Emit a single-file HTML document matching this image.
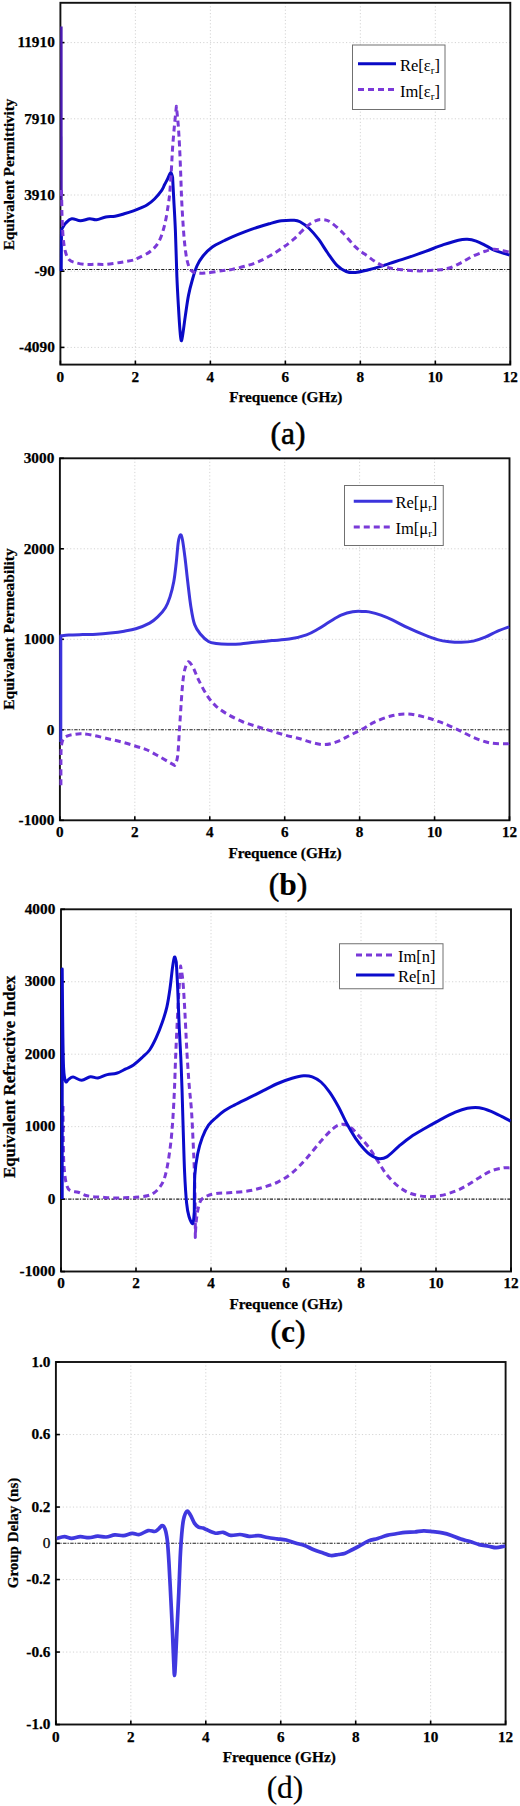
<!DOCTYPE html>
<html><head><meta charset="utf-8"><title>Figure</title>
<style>
html,body{margin:0;padding:0;background:#fff;}
svg{display:block;}
.grid{stroke:#d4d4d4;stroke-width:1;stroke-dasharray:1.2 2.2;}
.zero{stroke:#222;stroke-width:1.1;stroke-dasharray:3.2 1.3 1.2 1.5;}
.tick{stroke:#000;stroke-width:1.6;}
.frame{fill:none;stroke:#111;stroke-width:1.9;}
.tl{font-family:'Liberation Serif', 'Times New Roman', serif;font-weight:bold;fill:#000;stroke:#000;stroke-width:0.25px;}
.al{font-family:'Liberation Serif', 'Times New Roman', serif;font-weight:bold;fill:#000;stroke:#000;stroke-width:0.25px;}
.lg{font-family:'Liberation Serif', 'Times New Roman', serif;font-size:16.5px;fill:#000;}
</style></head>
<body>
<svg width="520" height="1806" viewBox="0 0 520 1806">
<rect x="0" y="0" width="520" height="1806" fill="#fff"/>
<line x1="135.38" y1="2.80" x2="135.38" y2="364.60" class="grid"/>
<line x1="210.37" y1="2.80" x2="210.37" y2="364.60" class="grid"/>
<line x1="285.35" y1="2.80" x2="285.35" y2="364.60" class="grid"/>
<line x1="360.33" y1="2.80" x2="360.33" y2="364.60" class="grid"/>
<line x1="435.32" y1="2.80" x2="435.32" y2="364.60" class="grid"/>
<line x1="60.40" y1="42.60" x2="510.30" y2="42.60" class="grid"/>
<line x1="60.40" y1="118.80" x2="510.30" y2="118.80" class="grid"/>
<line x1="60.40" y1="195.00" x2="510.30" y2="195.00" class="grid"/>
<line x1="60.40" y1="271.20" x2="510.30" y2="271.20" class="grid"/>
<line x1="60.40" y1="347.40" x2="510.30" y2="347.40" class="grid"/>
<line x1="60.40" y1="269.49" x2="510.30" y2="269.49" class="zero"/>
<rect x="60.40" y="2.80" width="449.90" height="361.80" class="frame"/>
<line x1="60.40" y1="364.60" x2="60.40" y2="360.60" class="tick"/>
<text x="60.40" y="382.00" class="tl" text-anchor="middle" font-size="15.2">0</text>
<line x1="135.38" y1="364.60" x2="135.38" y2="360.60" class="tick"/>
<text x="135.38" y="382.00" class="tl" text-anchor="middle" font-size="15.2">2</text>
<line x1="210.37" y1="364.60" x2="210.37" y2="360.60" class="tick"/>
<text x="210.37" y="382.00" class="tl" text-anchor="middle" font-size="15.2">4</text>
<line x1="285.35" y1="364.60" x2="285.35" y2="360.60" class="tick"/>
<text x="285.35" y="382.00" class="tl" text-anchor="middle" font-size="15.2">6</text>
<line x1="360.33" y1="364.60" x2="360.33" y2="360.60" class="tick"/>
<text x="360.33" y="382.00" class="tl" text-anchor="middle" font-size="15.2">8</text>
<line x1="435.32" y1="364.60" x2="435.32" y2="360.60" class="tick"/>
<text x="435.32" y="382.00" class="tl" text-anchor="middle" font-size="15.2">10</text>
<line x1="510.30" y1="364.60" x2="510.30" y2="360.60" class="tick"/>
<text x="510.30" y="382.00" class="tl" text-anchor="middle" font-size="15.2">12</text>
<line x1="60.40" y1="42.60" x2="64.40" y2="42.60" class="tick"/>
<text x="54.80" y="47.30" class="tl" text-anchor="end" style="font-weight:bold" font-size="15.3">11910</text>
<line x1="60.40" y1="118.80" x2="64.40" y2="118.80" class="tick"/>
<text x="54.80" y="123.50" class="tl" text-anchor="end" style="font-weight:bold" font-size="15.3">7910</text>
<line x1="60.40" y1="195.00" x2="64.40" y2="195.00" class="tick"/>
<text x="54.80" y="199.70" class="tl" text-anchor="end" style="font-weight:bold" font-size="15.3">3910</text>
<line x1="60.40" y1="271.20" x2="64.40" y2="271.20" class="tick"/>
<text x="54.80" y="275.90" class="tl" text-anchor="end" style="font-weight:bold" font-size="15.3">-90</text>
<line x1="60.40" y1="347.40" x2="64.40" y2="347.40" class="tick"/>
<text x="54.80" y="352.10" class="tl" text-anchor="end" style="font-weight:bold" font-size="15.3">-4090</text>
<text transform="translate(13.80,174.40) rotate(-90)" x="0" y="0" class="al" text-anchor="middle" font-size="15">Equivalent Permittivity</text>
<text x="285.70" y="401.90" class="al" text-anchor="middle" font-size="15.3">Frequence (GHz)</text>
<text x="288.00" y="444.00" font-family="'Liberation Serif', 'Times New Roman', serif" font-weight="normal" font-size="31.5" text-anchor="middle" fill="#000" stroke="#000" stroke-width="0.55">(a)</text>
<path d="M61.20,271.00 L61.50,229.50 L61.50,229.50 C62.22,228.42 64.07,224.78 65.80,223.00 C67.53,221.22 69.47,219.17 71.90,218.80 C74.33,218.43 77.45,220.80 80.40,220.80 C83.35,220.80 86.92,218.98 89.60,218.80 C92.28,218.62 93.80,220.00 96.50,219.70 C99.20,219.40 102.72,217.58 105.80,217.00 C108.88,216.42 111.93,216.73 115.00,216.20 C118.07,215.67 121.12,214.70 124.20,213.80 C127.28,212.90 130.62,211.82 133.50,210.80 C136.38,209.78 139.20,208.70 141.50,207.70 C143.80,206.70 145.13,206.25 147.30,204.80 C149.47,203.35 152.10,201.40 154.50,199.00 C156.90,196.60 160.03,192.77 161.70,190.40 C163.37,188.03 163.48,186.78 164.50,184.80 C165.52,182.82 166.75,180.55 167.80,178.50 C168.85,176.45 170.00,172.68 170.80,172.50 C171.60,172.32 172.30,176.58 172.60,177.40 L172.60,177.40 C172.80,181.17 173.33,191.10 173.80,200.00 C174.27,208.90 174.88,217.98 175.40,230.80 C175.92,243.62 176.38,264.08 176.90,276.90 C177.42,289.72 177.98,298.72 178.50,307.70 C179.02,316.68 179.55,325.33 180.00,330.80 C180.45,336.27 180.77,339.72 181.20,340.50 C181.63,341.28 181.90,339.68 182.60,335.50 C183.30,331.32 184.42,322.08 185.40,315.40 C186.38,308.72 187.35,301.30 188.50,295.40 C189.65,289.50 190.90,284.90 192.30,280.00 C193.70,275.10 195.12,270.00 196.90,266.00 C198.68,262.00 200.43,259.17 203.00,256.00 C205.57,252.83 208.70,249.58 212.30,247.00 C215.90,244.42 221.27,242.20 224.60,240.50 C227.93,238.80 228.97,238.25 232.30,236.80 C235.63,235.35 240.50,233.35 244.60,231.80 C248.70,230.25 252.80,228.83 256.90,227.50 C261.00,226.17 265.10,224.92 269.20,223.80 C273.30,222.68 277.40,221.40 281.50,220.80 C285.60,220.20 290.72,220.05 293.80,220.20 C296.88,220.35 297.43,220.32 300.00,221.70 C302.57,223.08 306.12,225.58 309.20,228.50 C312.28,231.42 315.42,235.12 318.50,239.20 C321.58,243.28 324.62,248.63 327.70,253.00 C330.78,257.37 333.92,262.32 337.00,265.40 C340.08,268.48 343.13,270.32 346.20,271.50 C349.27,272.68 351.82,272.75 355.40,272.50 C358.98,272.25 363.60,270.98 367.70,270.00 C371.80,269.02 376.32,267.70 380.00,266.60 C383.68,265.50 385.18,264.90 389.80,263.40 C394.42,261.90 401.73,259.62 407.70,257.60 C413.67,255.58 419.63,253.45 425.60,251.30 C431.57,249.15 438.03,246.55 443.50,244.70 C448.97,242.85 454.43,241.10 458.40,240.20 C462.37,239.30 464.33,239.15 467.30,239.30 C470.27,239.45 473.22,240.10 476.20,241.10 C479.18,242.10 482.22,243.80 485.20,245.30 C488.18,246.80 491.12,248.80 494.10,250.10 C497.08,251.40 500.53,252.27 503.10,253.10 C505.67,253.93 508.43,254.77 509.50,255.10" fill="none" stroke="#0a0ac6" stroke-width="3" stroke-linejoin="round"/>
<line x1="61.4" y1="26.5" x2="61.5" y2="200" stroke="#4c1cb4" stroke-width="2.4"/>
<path d="M61.50,190.00 C61.55,192.50 61.72,200.83 61.80,205.00 C61.88,209.17 61.77,209.50 62.00,215.00 C62.23,220.50 62.62,231.83 63.20,238.00 C63.78,244.17 64.53,248.42 65.50,252.00 C66.47,255.58 67.42,257.75 69.00,259.50 C70.58,261.25 72.20,261.67 75.00,262.50 C77.80,263.33 82.47,264.22 85.80,264.50 C89.13,264.78 91.93,264.22 95.00,264.20 C98.07,264.18 100.87,264.57 104.20,264.40 C107.53,264.23 111.67,263.63 115.00,263.20 C118.33,262.77 121.12,262.33 124.20,261.80 C127.28,261.27 131.10,260.67 133.50,260.00 C135.90,259.33 135.82,259.22 138.60,257.80 C141.38,256.38 146.83,254.18 150.20,251.50 C153.57,248.82 156.40,246.12 158.80,241.70 C161.20,237.28 163.02,231.18 164.60,225.00 C166.18,218.82 167.40,210.43 168.30,204.60 C169.20,198.77 169.47,196.15 170.00,190.00 C170.53,183.85 171.07,174.75 171.50,167.70 C171.93,160.65 172.12,154.65 172.60,147.70 C173.08,140.75 173.77,132.92 174.40,126.00 C175.03,119.08 176.07,109.50 176.40,106.20 L176.40,106.20 C176.72,109.50 177.77,119.08 178.30,126.00 C178.83,132.92 179.20,139.73 179.60,147.70 C180.00,155.67 180.37,165.33 180.70,173.80 C181.03,182.27 181.22,190.30 181.60,198.50 C181.98,206.70 182.50,215.58 183.00,223.00 C183.50,230.42 183.93,236.83 184.60,243.00 C185.27,249.17 185.97,255.50 187.00,260.00 C188.03,264.50 189.15,267.83 190.80,270.00 C192.45,272.17 194.37,272.50 196.90,273.00 C199.43,273.50 201.90,273.37 206.00,273.00 C210.10,272.63 217.12,271.40 221.50,270.80 C225.88,270.20 228.45,270.15 232.30,269.40 C236.15,268.65 240.50,267.48 244.60,266.30 C248.70,265.12 252.80,263.98 256.90,262.30 C261.00,260.62 265.10,258.50 269.20,256.20 C273.30,253.90 277.40,251.33 281.50,248.50 C285.60,245.67 289.68,242.80 293.80,239.20 C297.92,235.60 302.60,229.97 306.20,226.90 C309.80,223.83 312.60,222.03 315.40,220.80 C318.20,219.57 320.43,219.25 323.00,219.50 C325.57,219.75 327.47,220.05 330.80,222.30 C334.13,224.55 338.90,228.90 343.00,233.00 C347.10,237.10 351.28,243.03 355.40,246.90 C359.52,250.77 363.95,253.48 367.70,256.20 C371.45,258.92 374.22,261.23 377.90,263.20 C381.58,265.17 385.33,266.87 389.80,268.00 C394.27,269.13 399.73,269.52 404.70,270.00 C409.67,270.48 414.13,270.90 419.60,270.90 C425.07,270.90 432.53,270.48 437.50,270.00 C442.47,269.52 445.43,269.23 449.40,268.00 C453.37,266.77 457.32,264.60 461.30,262.60 C465.28,260.60 469.32,257.88 473.30,256.00 C477.28,254.12 481.73,252.43 485.20,251.30 C488.67,250.17 491.12,249.30 494.10,249.20 C497.08,249.10 500.53,250.20 503.10,250.70 C505.67,251.20 508.43,251.95 509.50,252.20" fill="none" stroke="#7a3ad8" stroke-width="3" stroke-linejoin="round" stroke-dasharray="6 4"/>
<rect x="352.50" y="45.00" width="92.50" height="64.50" fill="#fff" stroke="#707070" stroke-width="1"/>
<line x1="358.00" y1="63.75" x2="396.00" y2="63.75" stroke="#0a0ac6" stroke-width="3"/>
<text x="400.00" y="70.50" class="lg">Re[ε<tspan font-size="11" dy="3">r</tspan><tspan dy="-3">]</tspan></text>
<line x1="358.00" y1="89.50" x2="395.00" y2="89.50" stroke="#7a3ad8" stroke-width="3" stroke-dasharray="6 4"/>
<text x="400.00" y="96.50" class="lg">Im[ε<tspan font-size="11" dy="3">r</tspan><tspan dy="-3">]</tspan></text>
<line x1="134.83" y1="458.30" x2="134.83" y2="820.30" class="grid"/>
<line x1="209.77" y1="458.30" x2="209.77" y2="820.30" class="grid"/>
<line x1="284.70" y1="458.30" x2="284.70" y2="820.30" class="grid"/>
<line x1="359.63" y1="458.30" x2="359.63" y2="820.30" class="grid"/>
<line x1="434.57" y1="458.30" x2="434.57" y2="820.30" class="grid"/>
<line x1="59.90" y1="548.80" x2="509.50" y2="548.80" class="grid"/>
<line x1="59.90" y1="639.30" x2="509.50" y2="639.30" class="grid"/>
<line x1="59.90" y1="729.80" x2="509.50" y2="729.80" class="grid"/>
<line x1="59.90" y1="729.80" x2="509.50" y2="729.80" class="zero"/>
<rect x="59.90" y="458.30" width="449.60" height="362.00" class="frame"/>
<line x1="59.90" y1="820.30" x2="59.90" y2="816.30" class="tick"/>
<text x="59.90" y="837.30" class="tl" text-anchor="middle" font-size="15.2">0</text>
<line x1="134.83" y1="820.30" x2="134.83" y2="816.30" class="tick"/>
<text x="134.83" y="837.30" class="tl" text-anchor="middle" font-size="15.2">2</text>
<line x1="209.77" y1="820.30" x2="209.77" y2="816.30" class="tick"/>
<text x="209.77" y="837.30" class="tl" text-anchor="middle" font-size="15.2">4</text>
<line x1="284.70" y1="820.30" x2="284.70" y2="816.30" class="tick"/>
<text x="284.70" y="837.30" class="tl" text-anchor="middle" font-size="15.2">6</text>
<line x1="359.63" y1="820.30" x2="359.63" y2="816.30" class="tick"/>
<text x="359.63" y="837.30" class="tl" text-anchor="middle" font-size="15.2">8</text>
<line x1="434.57" y1="820.30" x2="434.57" y2="816.30" class="tick"/>
<text x="434.57" y="837.30" class="tl" text-anchor="middle" font-size="15.2">10</text>
<line x1="509.50" y1="820.30" x2="509.50" y2="816.30" class="tick"/>
<text x="509.50" y="837.30" class="tl" text-anchor="middle" font-size="15.2">12</text>
<line x1="59.90" y1="458.30" x2="63.90" y2="458.30" class="tick"/>
<text x="54.30" y="463.00" class="tl" text-anchor="end" style="font-weight:bold" font-size="15.3">3000</text>
<line x1="59.90" y1="548.80" x2="63.90" y2="548.80" class="tick"/>
<text x="54.30" y="553.50" class="tl" text-anchor="end" style="font-weight:bold" font-size="15.3">2000</text>
<line x1="59.90" y1="639.30" x2="63.90" y2="639.30" class="tick"/>
<text x="54.30" y="644.00" class="tl" text-anchor="end" style="font-weight:bold" font-size="15.3">1000</text>
<line x1="59.90" y1="729.80" x2="63.90" y2="729.80" class="tick"/>
<text x="54.30" y="734.50" class="tl" text-anchor="end" style="font-weight:bold" font-size="15.3">0</text>
<line x1="59.90" y1="820.30" x2="63.90" y2="820.30" class="tick"/>
<text x="54.30" y="825.00" class="tl" text-anchor="end" style="font-weight:bold" font-size="15.3">-1000</text>
<text transform="translate(14.40,629.00) rotate(-90)" x="0" y="0" class="al" text-anchor="middle" font-size="15.5">Equivalent Permeability</text>
<text x="285.00" y="857.50" class="al" text-anchor="middle" font-size="15.3">Frequence (GHz)</text>
<text x="288.00" y="894.50" font-family="'Liberation Serif', 'Times New Roman', serif" font-weight="normal" font-size="31.5" text-anchor="middle" fill="#000" stroke="#000" stroke-width="0.55">(<tspan font-weight="bold" stroke-width="0.1">b</tspan>)</text>
<path d="M60.80,742.00 L60.80,635.80 L60.80,635.80 C62.13,635.68 65.15,635.30 68.80,635.10 C72.45,634.90 78.08,634.75 82.70,634.60 C87.32,634.45 91.88,634.47 96.50,634.20 C101.12,633.93 105.78,633.50 110.40,633.00 C115.02,632.50 119.97,631.90 124.20,631.20 C128.43,630.50 131.57,630.15 135.80,628.80 C140.03,627.45 145.95,625.08 149.60,623.10 C153.25,621.12 155.07,619.47 157.70,616.90 C160.33,614.33 163.35,611.03 165.40,607.70 C167.45,604.37 168.60,601.27 170.00,596.90 C171.40,592.53 172.77,587.15 173.80,581.50 C174.83,575.85 175.45,569.58 176.20,563.00 C176.95,556.42 177.60,546.70 178.30,542.00 C179.00,537.30 179.70,535.13 180.40,534.80 C181.10,534.47 181.72,536.05 182.50,540.00 C183.28,543.95 184.23,551.58 185.10,558.50 C185.97,565.42 186.75,573.55 187.70,581.50 C188.65,589.45 189.65,599.02 190.80,606.20 C191.95,613.38 192.93,619.88 194.60,624.60 C196.27,629.32 198.48,631.68 200.80,634.50 C203.12,637.32 205.93,640.00 208.50,641.50 C211.07,643.00 213.00,643.03 216.20,643.50 C219.40,643.97 223.70,644.22 227.70,644.30 C231.70,644.38 235.72,644.33 240.20,644.00 C244.68,643.67 249.32,642.87 254.60,642.30 C259.88,641.73 266.13,641.13 271.90,640.60 C277.67,640.07 283.43,640.07 289.20,639.10 C294.97,638.13 301.68,636.48 306.50,634.80 C311.32,633.12 314.25,631.17 318.10,629.00 C321.95,626.83 325.77,624.10 329.60,621.80 C333.43,619.50 337.25,616.88 341.10,615.20 C344.95,613.52 348.85,612.32 352.70,611.70 C356.55,611.08 361.48,611.47 364.20,611.50 C366.92,611.53 366.22,611.28 369.00,611.90 C371.78,612.52 376.93,613.82 380.90,615.20 C384.87,616.58 388.33,618.12 392.80,620.20 C397.27,622.28 402.73,625.37 407.70,627.70 C412.67,630.03 417.63,632.22 422.60,634.20 C427.57,636.18 433.03,638.35 437.50,639.60 C441.97,640.85 445.43,641.25 449.40,641.70 C453.37,642.15 457.32,642.40 461.30,642.30 C465.28,642.20 469.32,641.95 473.30,641.10 C477.28,640.25 481.23,638.83 485.20,637.20 C489.17,635.57 493.10,633.03 497.10,631.30 C501.10,629.57 507.18,627.55 509.20,626.80" fill="none" stroke="#3c34dc" stroke-width="3" stroke-linejoin="round"/>
<path d="M60.90,785.20 C60.92,779.83 60.85,759.95 61.00,753.00 C61.15,746.05 61.38,745.87 61.80,743.50 C62.22,741.13 62.63,740.02 63.50,738.80 C64.37,737.58 65.53,736.88 67.00,736.20 C68.47,735.52 69.97,735.10 72.30,734.70 C74.63,734.30 77.63,733.72 81.00,733.80 C84.37,733.88 88.18,734.42 92.50,735.20 C96.82,735.98 102.10,737.38 106.90,738.50 C111.70,739.62 116.48,740.62 121.30,741.90 C126.12,743.18 131.47,744.85 135.80,746.20 C140.13,747.55 143.47,748.32 147.30,750.00 C151.13,751.68 155.20,754.28 158.80,756.30 C162.40,758.32 166.25,760.58 168.90,762.10 C171.55,763.62 173.73,764.85 174.70,765.40 L174.70,765.40 C175.18,763.88 176.78,762.62 177.60,756.30 C178.42,749.98 178.88,738.07 179.60,727.50 C180.32,716.93 181.22,701.65 181.90,692.90 C182.58,684.15 183.03,679.48 183.70,675.00 C184.37,670.52 185.08,668.20 185.90,666.00 C186.72,663.80 187.40,661.57 188.60,661.80 C189.80,662.03 191.40,664.30 193.10,667.40 C194.80,670.50 196.40,675.60 198.80,680.40 C201.20,685.20 204.60,691.88 207.50,696.20 C210.40,700.52 212.83,703.27 216.20,706.30 C219.57,709.33 223.38,711.87 227.70,714.40 C232.02,716.93 237.30,719.48 242.10,721.50 C246.90,723.52 251.68,724.93 256.50,726.50 C261.32,728.07 266.18,729.45 271.00,730.90 C275.82,732.35 280.57,733.88 285.40,735.20 C290.23,736.52 295.50,737.57 300.00,738.80 C304.50,740.03 308.27,741.63 312.40,742.60 C316.53,743.57 320.67,744.75 324.80,744.60 C328.93,744.45 333.07,743.22 337.20,741.70 C341.33,740.18 345.47,737.57 349.60,735.50 C353.73,733.43 357.87,731.52 362.00,729.30 C366.13,727.08 369.57,724.42 374.40,722.20 C379.23,719.98 385.48,717.37 391.00,716.00 C396.52,714.63 402.00,713.85 407.50,714.00 C413.00,714.15 418.48,715.53 424.00,716.90 C429.52,718.27 435.08,720.13 440.60,722.20 C446.12,724.27 451.60,726.75 457.10,729.30 C462.60,731.85 468.08,735.23 473.60,737.50 C479.12,739.77 484.68,741.87 490.20,742.90 C495.72,743.93 503.53,743.60 506.70,743.70 C509.87,743.80 508.78,743.53 509.20,743.50" fill="none" stroke="#7a3ad8" stroke-width="3" stroke-linejoin="round" stroke-dasharray="6 4"/>
<rect x="344.50" y="485.50" width="98.75" height="60.00" fill="#fff" stroke="#707070" stroke-width="1"/>
<line x1="353.75" y1="501.25" x2="392.50" y2="501.25" stroke="#3c34dc" stroke-width="3"/>
<text x="395.50" y="507.80" class="lg">Re[μ<tspan font-size="11" dy="3">r</tspan><tspan dy="-3">]</tspan></text>
<line x1="353.75" y1="527.00" x2="392.50" y2="527.00" stroke="#7a3ad8" stroke-width="3" stroke-dasharray="6 4"/>
<text x="395.50" y="533.50" class="lg">Im[μ<tspan font-size="11" dy="3">r</tspan><tspan dy="-3">]</tspan></text>
<line x1="136.00" y1="909.30" x2="136.00" y2="1271.50" class="grid"/>
<line x1="211.00" y1="909.30" x2="211.00" y2="1271.50" class="grid"/>
<line x1="286.00" y1="909.30" x2="286.00" y2="1271.50" class="grid"/>
<line x1="361.00" y1="909.30" x2="361.00" y2="1271.50" class="grid"/>
<line x1="436.00" y1="909.30" x2="436.00" y2="1271.50" class="grid"/>
<line x1="61.00" y1="981.75" x2="511.00" y2="981.75" class="grid"/>
<line x1="61.00" y1="1054.20" x2="511.00" y2="1054.20" class="grid"/>
<line x1="61.00" y1="1126.65" x2="511.00" y2="1126.65" class="grid"/>
<line x1="61.00" y1="1199.10" x2="511.00" y2="1199.10" class="grid"/>
<line x1="61.00" y1="1199.10" x2="511.00" y2="1199.10" class="zero"/>
<rect x="61.00" y="909.30" width="450.00" height="362.20" class="frame"/>
<line x1="61.00" y1="1271.50" x2="61.00" y2="1267.50" class="tick"/>
<text x="61.00" y="1287.80" class="tl" text-anchor="middle" font-size="15.2">0</text>
<line x1="136.00" y1="1271.50" x2="136.00" y2="1267.50" class="tick"/>
<text x="136.00" y="1287.80" class="tl" text-anchor="middle" font-size="15.2">2</text>
<line x1="211.00" y1="1271.50" x2="211.00" y2="1267.50" class="tick"/>
<text x="211.00" y="1287.80" class="tl" text-anchor="middle" font-size="15.2">4</text>
<line x1="286.00" y1="1271.50" x2="286.00" y2="1267.50" class="tick"/>
<text x="286.00" y="1287.80" class="tl" text-anchor="middle" font-size="15.2">6</text>
<line x1="361.00" y1="1271.50" x2="361.00" y2="1267.50" class="tick"/>
<text x="361.00" y="1287.80" class="tl" text-anchor="middle" font-size="15.2">8</text>
<line x1="436.00" y1="1271.50" x2="436.00" y2="1267.50" class="tick"/>
<text x="436.00" y="1287.80" class="tl" text-anchor="middle" font-size="15.2">10</text>
<line x1="511.00" y1="1271.50" x2="511.00" y2="1267.50" class="tick"/>
<text x="511.00" y="1287.80" class="tl" text-anchor="middle" font-size="15.2">12</text>
<line x1="61.00" y1="909.30" x2="65.00" y2="909.30" class="tick"/>
<text x="55.30" y="914.00" class="tl" text-anchor="end" style="font-weight:bold" font-size="15.3">4000</text>
<line x1="61.00" y1="981.75" x2="65.00" y2="981.75" class="tick"/>
<text x="55.30" y="986.45" class="tl" text-anchor="end" style="font-weight:bold" font-size="15.3">3000</text>
<line x1="61.00" y1="1054.20" x2="65.00" y2="1054.20" class="tick"/>
<text x="55.30" y="1058.90" class="tl" text-anchor="end" style="font-weight:bold" font-size="15.3">2000</text>
<line x1="61.00" y1="1126.65" x2="65.00" y2="1126.65" class="tick"/>
<text x="55.30" y="1131.35" class="tl" text-anchor="end" style="font-weight:bold" font-size="15.3">1000</text>
<line x1="61.00" y1="1199.10" x2="65.00" y2="1199.10" class="tick"/>
<text x="55.30" y="1203.80" class="tl" text-anchor="end" style="font-weight:bold" font-size="15.3">0</text>
<line x1="61.00" y1="1271.55" x2="65.00" y2="1271.55" class="tick"/>
<text x="55.30" y="1276.25" class="tl" text-anchor="end" style="font-weight:bold" font-size="15.3">-1000</text>
<text transform="translate(15.00,1076.80) rotate(-90)" x="0" y="0" class="al" text-anchor="middle" font-size="16.8">Equivalent Refractive Index</text>
<text x="286.00" y="1309.00" class="al" text-anchor="middle" font-size="15.3">Frequence (GHz)</text>
<text x="288.00" y="1342.00" font-family="'Liberation Serif', 'Times New Roman', serif" font-weight="normal" font-size="31.5" text-anchor="middle" fill="#000" stroke="#000" stroke-width="0.55">(<tspan font-weight="bold" stroke-width="0.2">c</tspan>)</text>
<path d="M63.00,1106.00 C63.07,1113.33 63.18,1139.33 63.40,1150.00 C63.62,1160.67 63.78,1164.25 64.30,1170.00 C64.82,1175.75 65.55,1181.08 66.50,1184.50 C67.45,1187.92 68.07,1189.20 70.00,1190.50 C71.93,1191.80 75.60,1191.52 78.10,1192.30 C80.60,1193.08 82.70,1194.50 85.00,1195.20 C87.30,1195.90 89.20,1196.17 91.90,1196.50 C94.60,1196.83 97.73,1196.95 101.20,1197.20 C104.67,1197.45 108.87,1197.92 112.70,1198.00 C116.53,1198.08 120.35,1197.83 124.20,1197.70 C128.05,1197.57 131.95,1197.52 135.80,1197.20 C139.65,1196.88 144.23,1196.53 147.30,1195.80 C150.37,1195.07 152.17,1194.18 154.20,1192.80 C156.23,1191.42 157.90,1189.63 159.50,1187.50 C161.10,1185.37 162.55,1183.25 163.80,1180.00 C165.05,1176.75 166.03,1172.67 167.00,1168.00 C167.97,1163.33 168.83,1157.50 169.60,1152.00 C170.37,1146.50 171.02,1141.17 171.60,1135.00 C172.18,1128.83 172.62,1122.75 173.10,1115.00 C173.58,1107.25 174.08,1098.05 174.50,1088.50 C174.92,1078.95 175.18,1067.97 175.60,1057.70 C176.02,1047.43 176.50,1037.15 177.00,1026.90 C177.50,1016.65 178.00,1006.35 178.60,996.20 C179.20,986.05 180.27,971.03 180.60,966.00 L180.60,966.00 C180.97,968.33 182.15,973.50 182.80,980.00 C183.45,986.50 184.00,996.67 184.50,1005.00 C185.00,1013.33 185.35,1021.33 185.80,1030.00 C186.25,1038.67 186.63,1047.77 187.20,1057.00 C187.77,1066.23 188.48,1076.43 189.20,1085.40 C189.92,1094.37 190.85,1101.45 191.50,1110.80 C192.15,1120.15 192.62,1131.25 193.10,1141.50 C193.58,1151.75 194.05,1160.88 194.40,1172.30 C194.75,1183.72 195.05,1199.13 195.20,1210.00 C195.35,1220.87 195.28,1232.92 195.30,1237.50 L195.30,1237.50 C195.42,1235.25 195.60,1228.45 196.00,1224.00 C196.40,1219.55 196.90,1214.72 197.70,1210.80 C198.50,1206.88 199.27,1202.97 200.80,1200.50 C202.33,1198.03 204.33,1197.17 206.90,1196.00 C209.47,1194.83 212.10,1194.07 216.20,1193.50 C220.30,1192.93 226.07,1193.05 231.50,1192.60 C236.93,1192.15 243.50,1191.68 248.80,1190.80 C254.10,1189.92 258.48,1188.75 263.30,1187.30 C268.12,1185.85 272.90,1184.50 277.70,1182.10 C282.50,1179.70 287.30,1176.85 292.10,1172.90 C296.90,1168.95 301.68,1163.70 306.50,1158.40 C311.32,1153.10 316.67,1146.00 321.00,1141.10 C325.33,1136.20 329.15,1131.78 332.50,1129.00 C335.85,1126.22 338.22,1124.78 341.10,1124.40 C343.98,1124.02 346.92,1124.87 349.80,1126.70 C352.68,1128.53 355.22,1131.93 358.40,1135.40 C361.58,1138.87 365.65,1143.18 368.90,1147.50 C372.15,1151.82 374.92,1156.75 377.90,1161.30 C380.88,1165.85 383.33,1170.57 386.80,1174.80 C390.27,1179.03 394.72,1183.58 398.70,1186.70 C402.68,1189.82 406.22,1191.87 410.70,1193.50 C415.18,1195.13 420.63,1196.15 425.60,1196.50 C430.57,1196.85 435.53,1196.50 440.50,1195.60 C445.47,1194.70 450.93,1192.83 455.40,1191.10 C459.87,1189.37 463.33,1187.43 467.30,1185.20 C471.27,1182.97 475.23,1180.08 479.20,1177.70 C483.17,1175.32 487.12,1172.53 491.10,1170.90 C495.08,1169.27 500.03,1168.40 503.10,1167.90 C506.17,1167.40 508.43,1167.90 509.50,1167.90" fill="none" stroke="#7a3ad8" stroke-width="3" stroke-linejoin="round" stroke-dasharray="6 4"/>
<path d="M62.20,1199.00 L62.20,969.00 L62.20,969.00 C62.30,979.17 62.57,1013.50 62.80,1030.00 C63.03,1046.50 63.13,1059.42 63.60,1068.00 C64.07,1076.58 64.78,1079.58 65.60,1081.50 C66.42,1083.42 67.25,1080.23 68.50,1079.50 C69.75,1078.77 70.90,1076.98 73.10,1077.10 C75.30,1077.22 78.82,1080.25 81.70,1080.20 C84.58,1080.15 87.68,1077.17 90.40,1076.80 C93.12,1076.43 95.18,1078.37 98.00,1078.00 C100.82,1077.63 104.22,1075.38 107.30,1074.60 C110.38,1073.82 113.42,1074.25 116.50,1073.30 C119.58,1072.35 122.97,1070.28 125.80,1068.90 C128.63,1067.52 130.68,1066.98 133.50,1065.00 C136.32,1063.02 140.02,1059.50 142.70,1057.00 C145.38,1054.50 147.35,1053.22 149.60,1050.00 C151.85,1046.78 154.08,1042.32 156.20,1037.70 C158.32,1033.08 160.52,1027.43 162.30,1022.30 C164.08,1017.17 165.62,1012.53 166.90,1006.90 C168.18,1001.27 169.05,995.17 170.00,988.50 C170.95,981.83 171.85,972.15 172.60,966.90 C173.35,961.65 173.88,957.77 174.50,957.00 C175.12,956.23 176.00,961.42 176.30,962.30 L176.30,962.30 C176.53,966.67 177.22,977.73 177.70,988.50 C178.18,999.27 178.68,1015.37 179.20,1026.90 C179.72,1038.43 180.33,1047.43 180.80,1057.70 C181.27,1067.97 181.62,1077.08 182.00,1088.50 C182.38,1099.92 182.67,1112.23 183.10,1126.20 C183.53,1140.17 184.02,1159.50 184.60,1172.30 C185.18,1185.10 185.87,1195.63 186.60,1203.00 C187.33,1210.37 187.97,1213.08 189.00,1216.50 C190.03,1219.92 191.92,1224.25 192.80,1223.50 C193.68,1222.75 194.05,1213.92 194.30,1212.00 L194.30,1212.00 L194.30,1212.00 L194.30,1212.00 C194.38,1205.90 194.23,1185.10 194.80,1175.40 C195.37,1165.70 196.45,1160.12 197.70,1153.80 C198.95,1147.48 200.50,1142.27 202.30,1137.50 C204.10,1132.73 206.18,1128.53 208.50,1125.20 C210.82,1121.87 213.62,1119.87 216.20,1117.50 C218.78,1115.13 220.97,1113.07 224.00,1111.00 C227.03,1108.93 230.27,1107.28 234.40,1105.10 C238.53,1102.92 243.98,1100.30 248.80,1097.90 C253.62,1095.50 258.48,1093.10 263.30,1090.70 C268.12,1088.30 272.90,1085.57 277.70,1083.50 C282.50,1081.43 287.78,1079.60 292.10,1078.30 C296.42,1077.00 300.23,1075.95 303.60,1075.70 C306.97,1075.45 309.40,1075.75 312.30,1076.80 C315.20,1077.85 318.12,1079.45 321.00,1082.00 C323.88,1084.55 326.72,1088.02 329.60,1092.10 C332.48,1096.18 335.42,1101.22 338.30,1106.50 C341.18,1111.78 344.02,1118.50 346.90,1123.80 C349.78,1129.10 352.72,1134.05 355.60,1138.30 C358.48,1142.55 361.72,1146.52 364.20,1149.30 C366.68,1152.08 368.22,1153.47 370.50,1155.00 C372.78,1156.53 375.18,1158.18 377.90,1158.50 C380.62,1158.82 383.33,1158.92 386.80,1156.90 C390.27,1154.88 394.72,1149.73 398.70,1146.40 C402.68,1143.07 406.22,1139.97 410.70,1136.90 C415.18,1133.83 420.63,1130.88 425.60,1128.00 C430.57,1125.12 435.53,1122.23 440.50,1119.60 C445.47,1116.97 450.93,1114.08 455.40,1112.20 C459.87,1110.32 463.33,1109.05 467.30,1108.30 C471.27,1107.55 475.23,1107.20 479.20,1107.70 C483.17,1108.20 487.12,1109.72 491.10,1111.30 C495.08,1112.88 499.87,1115.57 503.10,1117.20 C506.33,1118.83 509.27,1120.45 510.50,1121.10" fill="none" stroke="#0b0bcc" stroke-width="3" stroke-linejoin="round"/>
<rect x="339.50" y="943.75" width="103.50" height="45.00" fill="#fff" stroke="#707070" stroke-width="1"/>
<line x1="356.00" y1="955.00" x2="392.50" y2="955.00" stroke="#7a3ad8" stroke-width="3" stroke-dasharray="6 4"/>
<text x="398.00" y="961.50" class="lg">Im[n]</text>
<line x1="356.00" y1="975.00" x2="394.50" y2="975.00" stroke="#0b0bcc" stroke-width="3"/>
<text x="398.00" y="981.50" class="lg">Re[n]</text>
<line x1="130.85" y1="1362.00" x2="130.85" y2="1724.50" class="grid"/>
<line x1="205.80" y1="1362.00" x2="205.80" y2="1724.50" class="grid"/>
<line x1="280.75" y1="1362.00" x2="280.75" y2="1724.50" class="grid"/>
<line x1="355.70" y1="1362.00" x2="355.70" y2="1724.50" class="grid"/>
<line x1="430.65" y1="1362.00" x2="430.65" y2="1724.50" class="grid"/>
<line x1="55.90" y1="1434.55" x2="505.60" y2="1434.55" class="grid"/>
<line x1="55.90" y1="1507.05" x2="505.60" y2="1507.05" class="grid"/>
<line x1="55.90" y1="1543.30" x2="505.60" y2="1543.30" class="grid"/>
<line x1="55.90" y1="1579.55" x2="505.60" y2="1579.55" class="grid"/>
<line x1="55.90" y1="1652.05" x2="505.60" y2="1652.05" class="grid"/>
<line x1="55.90" y1="1543.30" x2="505.60" y2="1543.30" class="zero"/>
<rect x="55.90" y="1362.00" width="449.70" height="362.50" class="frame"/>
<line x1="55.90" y1="1724.50" x2="55.90" y2="1720.50" class="tick"/>
<text x="55.90" y="1742.00" class="tl" text-anchor="middle" font-size="15.2">0</text>
<line x1="130.85" y1="1724.50" x2="130.85" y2="1720.50" class="tick"/>
<text x="130.85" y="1742.00" class="tl" text-anchor="middle" font-size="15.2">2</text>
<line x1="205.80" y1="1724.50" x2="205.80" y2="1720.50" class="tick"/>
<text x="205.80" y="1742.00" class="tl" text-anchor="middle" font-size="15.2">4</text>
<line x1="280.75" y1="1724.50" x2="280.75" y2="1720.50" class="tick"/>
<text x="280.75" y="1742.00" class="tl" text-anchor="middle" font-size="15.2">6</text>
<line x1="355.70" y1="1724.50" x2="355.70" y2="1720.50" class="tick"/>
<text x="355.70" y="1742.00" class="tl" text-anchor="middle" font-size="15.2">8</text>
<line x1="430.65" y1="1724.50" x2="430.65" y2="1720.50" class="tick"/>
<text x="430.65" y="1742.00" class="tl" text-anchor="middle" font-size="15.2">10</text>
<line x1="505.60" y1="1724.50" x2="505.60" y2="1720.50" class="tick"/>
<text x="505.60" y="1742.00" class="tl" text-anchor="middle" font-size="15.2">12</text>
<line x1="55.90" y1="1362.05" x2="59.90" y2="1362.05" class="tick"/>
<text x="50.50" y="1366.75" class="tl" text-anchor="end" style="font-weight:bold" font-size="15.3">1.0</text>
<line x1="55.90" y1="1434.55" x2="59.90" y2="1434.55" class="tick"/>
<text x="50.50" y="1439.25" class="tl" text-anchor="end" style="font-weight:bold" font-size="15.3">0.6</text>
<line x1="55.90" y1="1507.05" x2="59.90" y2="1507.05" class="tick"/>
<text x="50.50" y="1511.75" class="tl" text-anchor="end" style="font-weight:bold" font-size="15.3">0.2</text>
<line x1="55.90" y1="1543.30" x2="59.90" y2="1543.30" class="tick"/>
<text x="50.50" y="1548.00" class="tl" text-anchor="end" style="font-weight:normal" font-size="15.3">0</text>
<line x1="55.90" y1="1579.55" x2="59.90" y2="1579.55" class="tick"/>
<text x="50.50" y="1584.25" class="tl" text-anchor="end" style="font-weight:bold" font-size="15.3">-0.2</text>
<line x1="55.90" y1="1652.05" x2="59.90" y2="1652.05" class="tick"/>
<text x="50.50" y="1656.75" class="tl" text-anchor="end" style="font-weight:bold" font-size="15.3">-0.6</text>
<line x1="55.90" y1="1724.55" x2="59.90" y2="1724.55" class="tick"/>
<text x="50.50" y="1729.25" class="tl" text-anchor="end" style="font-weight:bold" font-size="15.3">-1.0</text>
<text transform="translate(18.20,1533.00) rotate(-90)" x="0" y="0" class="al" text-anchor="middle" font-size="15">Group Delay (ns)</text>
<text x="279.20" y="1762.30" class="al" text-anchor="middle" font-size="15.3">Frequence (GHz)</text>
<text x="285.00" y="1798.00" font-family="'Liberation Serif', 'Times New Roman', serif" font-weight="normal" font-size="31.5" text-anchor="middle" fill="#000" stroke="#000" stroke-width="0.15">(d)</text>
<path d="M56.80,1538.50 C58.07,1538.20 61.93,1536.73 64.40,1536.70 C66.87,1536.67 68.95,1538.30 71.60,1538.30 C74.25,1538.30 77.42,1536.80 80.30,1536.70 C83.18,1536.60 86.02,1537.78 88.90,1537.70 C91.78,1537.62 94.72,1536.32 97.60,1536.20 C100.48,1536.08 103.32,1537.22 106.20,1537.00 C109.08,1536.78 112.02,1535.13 114.90,1534.90 C117.78,1534.67 120.62,1535.87 123.50,1535.60 C126.38,1535.33 129.55,1533.48 132.20,1533.30 C134.85,1533.12 136.75,1534.95 139.40,1534.50 C142.05,1534.05 145.57,1531.10 148.10,1530.60 C150.63,1530.10 152.93,1531.70 154.60,1531.50 C156.27,1531.30 156.85,1530.38 158.10,1529.40 C159.35,1528.42 160.95,1525.70 162.10,1525.60 C163.25,1525.50 164.13,1526.33 165.00,1528.80 C165.87,1531.27 166.63,1534.62 167.30,1540.40 C167.97,1546.18 168.42,1553.90 169.00,1563.50 C169.58,1573.10 170.22,1586.47 170.80,1598.00 C171.38,1609.53 172.02,1622.12 172.50,1632.70 C172.98,1643.28 173.37,1654.37 173.70,1661.50 C174.03,1668.63 174.20,1675.50 174.50,1675.50 C174.80,1675.50 175.07,1669.60 175.50,1661.50 C175.93,1653.40 176.55,1638.43 177.10,1626.90 C177.65,1615.37 178.28,1603.83 178.80,1592.30 C179.32,1580.77 179.72,1567.32 180.20,1557.70 C180.68,1548.08 181.15,1540.95 181.70,1534.60 C182.25,1528.25 182.63,1523.50 183.50,1519.60 C184.37,1515.70 185.75,1511.97 186.90,1511.20 C188.05,1510.43 189.15,1513.02 190.40,1515.00 C191.65,1516.98 193.05,1521.08 194.40,1523.10 C195.75,1525.12 197.05,1526.28 198.50,1527.10 C199.95,1527.92 201.82,1527.60 203.10,1528.00 C204.38,1528.40 204.15,1528.63 206.20,1529.50 C208.25,1530.37 212.58,1532.73 215.40,1533.20 C218.22,1533.67 220.53,1531.93 223.10,1532.30 C225.67,1532.67 227.98,1535.03 230.80,1535.40 C233.62,1535.77 236.93,1534.35 240.00,1534.50 C243.07,1534.65 246.12,1536.10 249.20,1536.30 C252.28,1536.50 255.42,1535.50 258.50,1535.70 C261.58,1535.90 264.63,1536.98 267.70,1537.50 C270.77,1538.02 273.82,1538.38 276.90,1538.80 C279.98,1539.22 283.12,1539.28 286.20,1540.00 C289.28,1540.72 292.33,1542.18 295.40,1543.10 C298.47,1544.02 301.53,1544.38 304.60,1545.50 C307.67,1546.62 310.72,1548.57 313.80,1549.80 C316.88,1551.03 320.27,1551.95 323.10,1552.90 C325.93,1553.85 328.23,1555.23 330.80,1555.50 C333.37,1555.77 336.20,1554.83 338.50,1554.50 C340.80,1554.17 342.68,1554.12 344.60,1553.50 C346.52,1552.88 347.57,1552.02 350.00,1550.80 C352.43,1549.58 356.12,1547.85 359.20,1546.20 C362.28,1544.55 365.42,1542.18 368.50,1540.90 C371.58,1539.62 374.63,1539.42 377.70,1538.50 C380.77,1537.58 383.82,1536.18 386.90,1535.40 C389.98,1534.62 393.12,1534.32 396.20,1533.80 C399.28,1533.28 402.33,1532.60 405.40,1532.30 C408.47,1532.00 411.53,1532.25 414.60,1532.00 C417.67,1531.75 420.72,1530.85 423.80,1530.80 C426.88,1530.75 430.02,1531.35 433.10,1531.70 C436.18,1532.05 439.23,1532.28 442.30,1532.90 C445.37,1533.52 448.42,1534.37 451.50,1535.40 C454.58,1536.43 457.72,1538.08 460.80,1539.10 C463.88,1540.12 466.93,1540.58 470.00,1541.50 C473.07,1542.42 476.12,1543.82 479.20,1544.60 C482.28,1545.38 485.67,1545.68 488.50,1546.20 C491.33,1546.72 493.65,1547.70 496.20,1547.70 C498.75,1547.70 502.28,1546.48 503.80,1546.20 C505.32,1545.92 505.05,1546.03 505.30,1546.00" fill="none" stroke="#4038df" stroke-width="3.7" stroke-linejoin="round"/>
</svg>
</body></html>
